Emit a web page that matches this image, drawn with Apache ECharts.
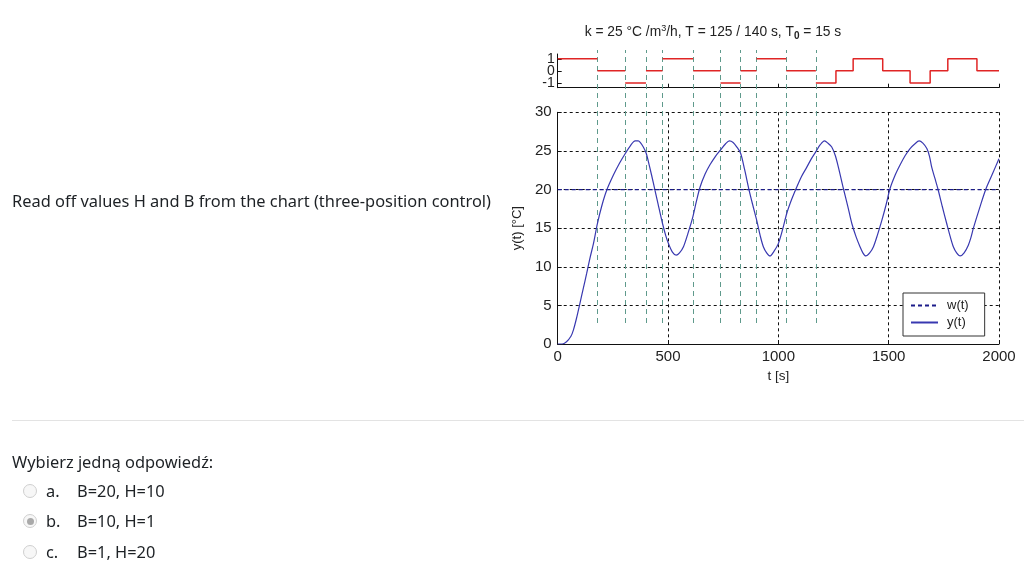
<!DOCTYPE html>
<html>
<head>
<meta charset="utf-8">
<script src="https://cdn.jsdelivr.net/npm/echarts@6/dist/echarts.min.js"></script>
<style>
  html,body{margin:0;padding:0;background:#fff;width:1024px;height:586px;overflow:hidden;}
  #chart{position:absolute;left:0;top:0;width:1024px;height:586px;}
  .txt{position:absolute;font-family:"Noto Sans","Open Sans",sans-serif;color:#1d2125;white-space:nowrap;}
  .q{left:12px;top:190px;font-size:16.4px;line-height:22px;}
  .sep{position:absolute;left:12px;top:420px;width:1012px;height:1px;background:#e3e3e3;}
  .prompt{left:12px;top:451px;font-size:16.4px;line-height:22px;}
  .opt{position:absolute;left:0;font-family:"Noto Sans","Open Sans",sans-serif;font-size:16.4px;line-height:22px;color:#1d2125;}
  .radio{position:absolute;left:23px;width:14px;height:14px;border-radius:50%;border:1px solid #cfcfcf;background:#f7f7f7;box-sizing:border-box;}
  .radio.sel::after{content:"";position:absolute;left:2.5px;top:2.5px;width:7px;height:7px;border-radius:50%;background:#a9a9a9;}
  .lbl{position:absolute;left:46px;}
  .val{position:absolute;left:77px;}
</style>
</head>
<body>
<div id="chart"></div>
<div class="txt q">Read off values H and B from the chart (three-position control)</div>
<div class="sep"></div>
<div class="txt prompt">Wybierz jedną odpowiedź:</div>
<div id="opts"></div>
<script>
// ---------- data ----------
var tTicks = [0, 500, 1000, 1500, 2000];
var yTicks = [0, 5, 10, 15, 20, 25, 30];
var uTicksOuter = [-1, 1];
var uTicksMid = [0];
var setpoint = 20;
// switching instants (green dashed lines)
var switchTimes = [180, 306, 400, 475, 614, 738, 829, 901, 1036, 1170];
// control signal u(t): breakpoints and levels
var uTimes  = [0, 180, 306, 400, 475, 614, 738, 829, 901, 1036, 1170, 1261, 1339, 1473, 1597, 1688, 1768, 1900, 2000];
var uLevels = [1, 0, -1, 0, 1, 0, -1, 0, 1, 0, -1, 0, 1, 0, -1, 0, 1, 0];
// process output y(t)
var tY = [0,20,40,60,71,85,101,116,131,146,162,180,200,222,253,280,307,330,351,365,374,388,401,417,434,455,475,490,502,520,537,552,570,590,611,628,645,668,690,715,737,760,778,795,812,829,847,866,884,902,918,932,947,962,980,1000,1020,1038,1060,1083,1105,1129,1150,1170,1190,1209,1225,1242,1258,1272,1295,1315,1333,1352,1370,1383,1396,1414,1431,1450,1469,1488,1506,1530,1552,1575,1597,1618,1638,1655,1673,1685,1695,1709,1723,1743,1763,1778,1793,1808,1824,1842,1861,1873,1884,1912,1941,1970,1997,2000];
var yVals = [0,0,0.3,1.0,1.8,3.3,5.3,7.2,9.1,11.1,13.0,15.6,17.9,19.9,21.9,23.4,24.7,25.7,26.3,26.3,26.1,25.5,24.7,22.9,20.8,18.1,15.6,14.0,13.0,11.9,11.5,11.8,12.6,14.3,16.3,18.4,20.3,22.0,23.2,24.3,25.1,25.9,26.3,26.1,25.5,24.7,22.6,20.1,18.0,16.0,14.0,12.6,11.8,11.4,12.0,13.0,14.9,16.9,18.7,20.3,21.7,22.9,24.0,24.9,25.8,26.3,26.0,25.5,24.4,22.9,20.1,17.8,15.6,13.9,12.6,11.8,11.4,11.8,12.6,14.2,16.0,18.0,20.1,21.9,23.2,24.4,25.3,25.9,26.3,26.0,25.3,24.3,22.9,21.5,20.1,17.8,15.6,14.0,12.6,11.8,11.4,11.8,12.8,13.8,15.0,17.6,20.1,22.0,23.8,24.0];
var titleText = 'k = 25 °C /m{sup|3}/h, T = 125 / 140 s, T{sub|0} = 15 s';
var options = [['a.', 'B=20, H=10', false], ['b.', 'B=10, H=1', true], ['c.', 'B=1, H=20', false]];

// ---------- answer options (HTML text) ----------
var optTops = [480, 510, 541];
var od = document.getElementById('opts');
options.forEach(function (o, i) {
  var r = document.createElement('div'); r.className = 'radio' + (o[2] ? ' sel' : '');
  r.style.top = (optTops[i] + 4) + 'px'; od.appendChild(r);
  var l = document.createElement('div'); l.className = 'opt lbl'; l.style.top = optTops[i] + 'px'; l.textContent = o[0]; od.appendChild(l);
  var v = document.createElement('div'); v.className = 'opt val'; v.style.top = optTops[i] + 'px'; v.textContent = o[1]; od.appendChild(v);
});

// ---------- build series data ----------
var uData = [];
for (var i = 0; i < uLevels.length; i++) {
  var t0 = uTimes[i], t1 = uTimes[i + 1];
  if (i > 0 && switchTimes.indexOf(t0) >= 0) uData.push([t0, '-']);
  uData.push([t0, uLevels[i]]);
  uData.push([t1, uLevels[i]]);
}
var yData = tY.map(function (t, i) { return [t, yVals[i]]; });
var wData = [[tTicks[0], setpoint], [tTicks[tTicks.length - 1], setpoint]];

var FONT = 'Liberation Sans, Arial, sans-serif';
var L = 557.7, R = 1024 - 999;
var plain = function (v) { return String(v); };
var chart = echarts.init(document.getElementById('chart'), null, {renderer: 'canvas'});
var axLine = {show: true, onZero: false, lineStyle: {color: '#111', width: 1}};
var tick = {show: true, inside: true, length: 4, lineStyle: {color: '#111'}};
function uAxis(vals, showLine) {
  return {gridIndex: 0, type: 'value', min: -1.4, max: 1.4, position: 'left',
    axisLine: {show: showLine, onZero: false, lineStyle: {color: '#111', width: 1}},
    axisTick: {show: true, inside: true, length: 4, customValues: vals, lineStyle: {color: '#111'}},
    axisLabel: {fontFamily: FONT, fontSize: 14, color: '#222', margin: 3, customValues: vals, formatter: plain},
    splitLine: {show: false}};
}
chart.setOption({
  backgroundColor: 'transparent',
  animation: false,
  title: {
    text: titleText, left: 708, top: 19, textAlign: 'center',
    textStyle: {fontFamily: FONT, fontSize: 13.8, fontWeight: 'normal', color: '#222',
      rich: {sup: {fontSize: 9, verticalAlign: 'top', padding: [0, 0, 7, 0], fontFamily: FONT, color: '#222'},
             sub: {fontSize: 10, verticalAlign: 'bottom', padding: [7, 0, 0, 0], fontFamily: FONT, color: '#222', fontWeight: 'bold'}}}
  },
  legend: {
    left: 903, top: 293, orient: 'vertical', data: ['w(t)', 'y(t)'],
    backgroundColor: '#fff', borderColor: '#333', borderWidth: 1, borderRadius: 0,
    padding: [6, 16, 7, 7], itemWidth: 27, itemHeight: 14, itemGap: 4,
    itemStyle: {opacity: 0},
    textStyle: {fontFamily: FONT, fontSize: 13, color: '#222', padding: [0, 0, 0, 4]}
  },
  grid: [
    {left: L, right: R, top: 54, height: 33.7},
    {left: L, right: R, top: 112.3, height: 231.7},
    {left: L, right: R, top: 50, height: 273}
  ],
  xAxis: [
    {gridIndex: 0, type: 'value', min: tTicks[0], max: tTicks[tTicks.length - 1], interval: 500,
     axisLine: axLine, axisTick: tick, axisLabel: {show: false}, splitLine: {show: false}},
    {gridIndex: 1, type: 'value', min: tTicks[0], max: tTicks[tTicks.length - 1], interval: 500,
     name: 't [s]', nameLocation: 'middle', nameGap: 25,
     nameTextStyle: {fontFamily: FONT, fontSize: 13.5, color: '#222'},
     axisLine: axLine, axisTick: tick,
     axisLabel: {fontFamily: FONT, fontSize: 15, color: '#222', margin: 5, formatter: plain},
     splitLine: {show: true, lineStyle: {color: '#111', width: 1, type: [3, 3]}}},
    {gridIndex: 2, type: 'value', min: tTicks[0], max: tTicks[tTicks.length - 1], show: false}
  ],
  yAxis: [
    uAxis(uTicksOuter, true),
    {gridIndex: 1, type: 'value', min: yTicks[0], max: yTicks[yTicks.length - 1], interval: 5,
     name: 'y(t) [°C]', nameLocation: 'middle', nameGap: 34, nameRotate: 90,
     nameTextStyle: {fontFamily: FONT, fontSize: 13, color: '#222'},
     axisLine: axLine, axisTick: tick,
     axisLabel: {fontFamily: FONT, fontSize: 15, color: '#222', margin: 6, formatter: plain},
     splitLine: {show: true, lineStyle: {color: '#111', width: 1, type: [3, 3]}}},
    {gridIndex: 2, type: 'value', min: 0, max: 1, show: false},
    uAxis(uTicksMid, false)
  ],
  series: [
    {name: 'u(t)', type: 'line', xAxisIndex: 0, yAxisIndex: 0, data: uData, showSymbol: false, symbol: 'none',
     connectNulls: false, lineStyle: {color: '#e02525', width: 1.5}, itemStyle: {color: '#e02525'}, z: 5},
    {name: 'switch', type: 'line', xAxisIndex: 2, yAxisIndex: 2, data: [], symbol: 'none',
     markLine: {silent: true, symbol: 'none', label: {show: false},
       lineStyle: {color: '#5f9a8c', width: 1, type: [5, 4]},
       data: switchTimes.map(function (s) { return {xAxis: s}; })}, z: 4},
    {name: 'w(t)', type: 'line', xAxisIndex: 1, yAxisIndex: 1, data: wData, symbol: 'none',
     lineStyle: {color: '#1c1c8a', width: 1.2, type: [4, 3]}, itemStyle: {color: '#1c1c8a'}, z: 6},
    {name: 'y(t)', type: 'line', xAxisIndex: 1, yAxisIndex: 1, data: yData, symbol: 'none', smooth: 0.3,
     lineStyle: {color: '#3838b0', width: 1.2}, itemStyle: {color: '#3838b0'}, z: 7}
  ]
});
</script>
</body>
</html>
